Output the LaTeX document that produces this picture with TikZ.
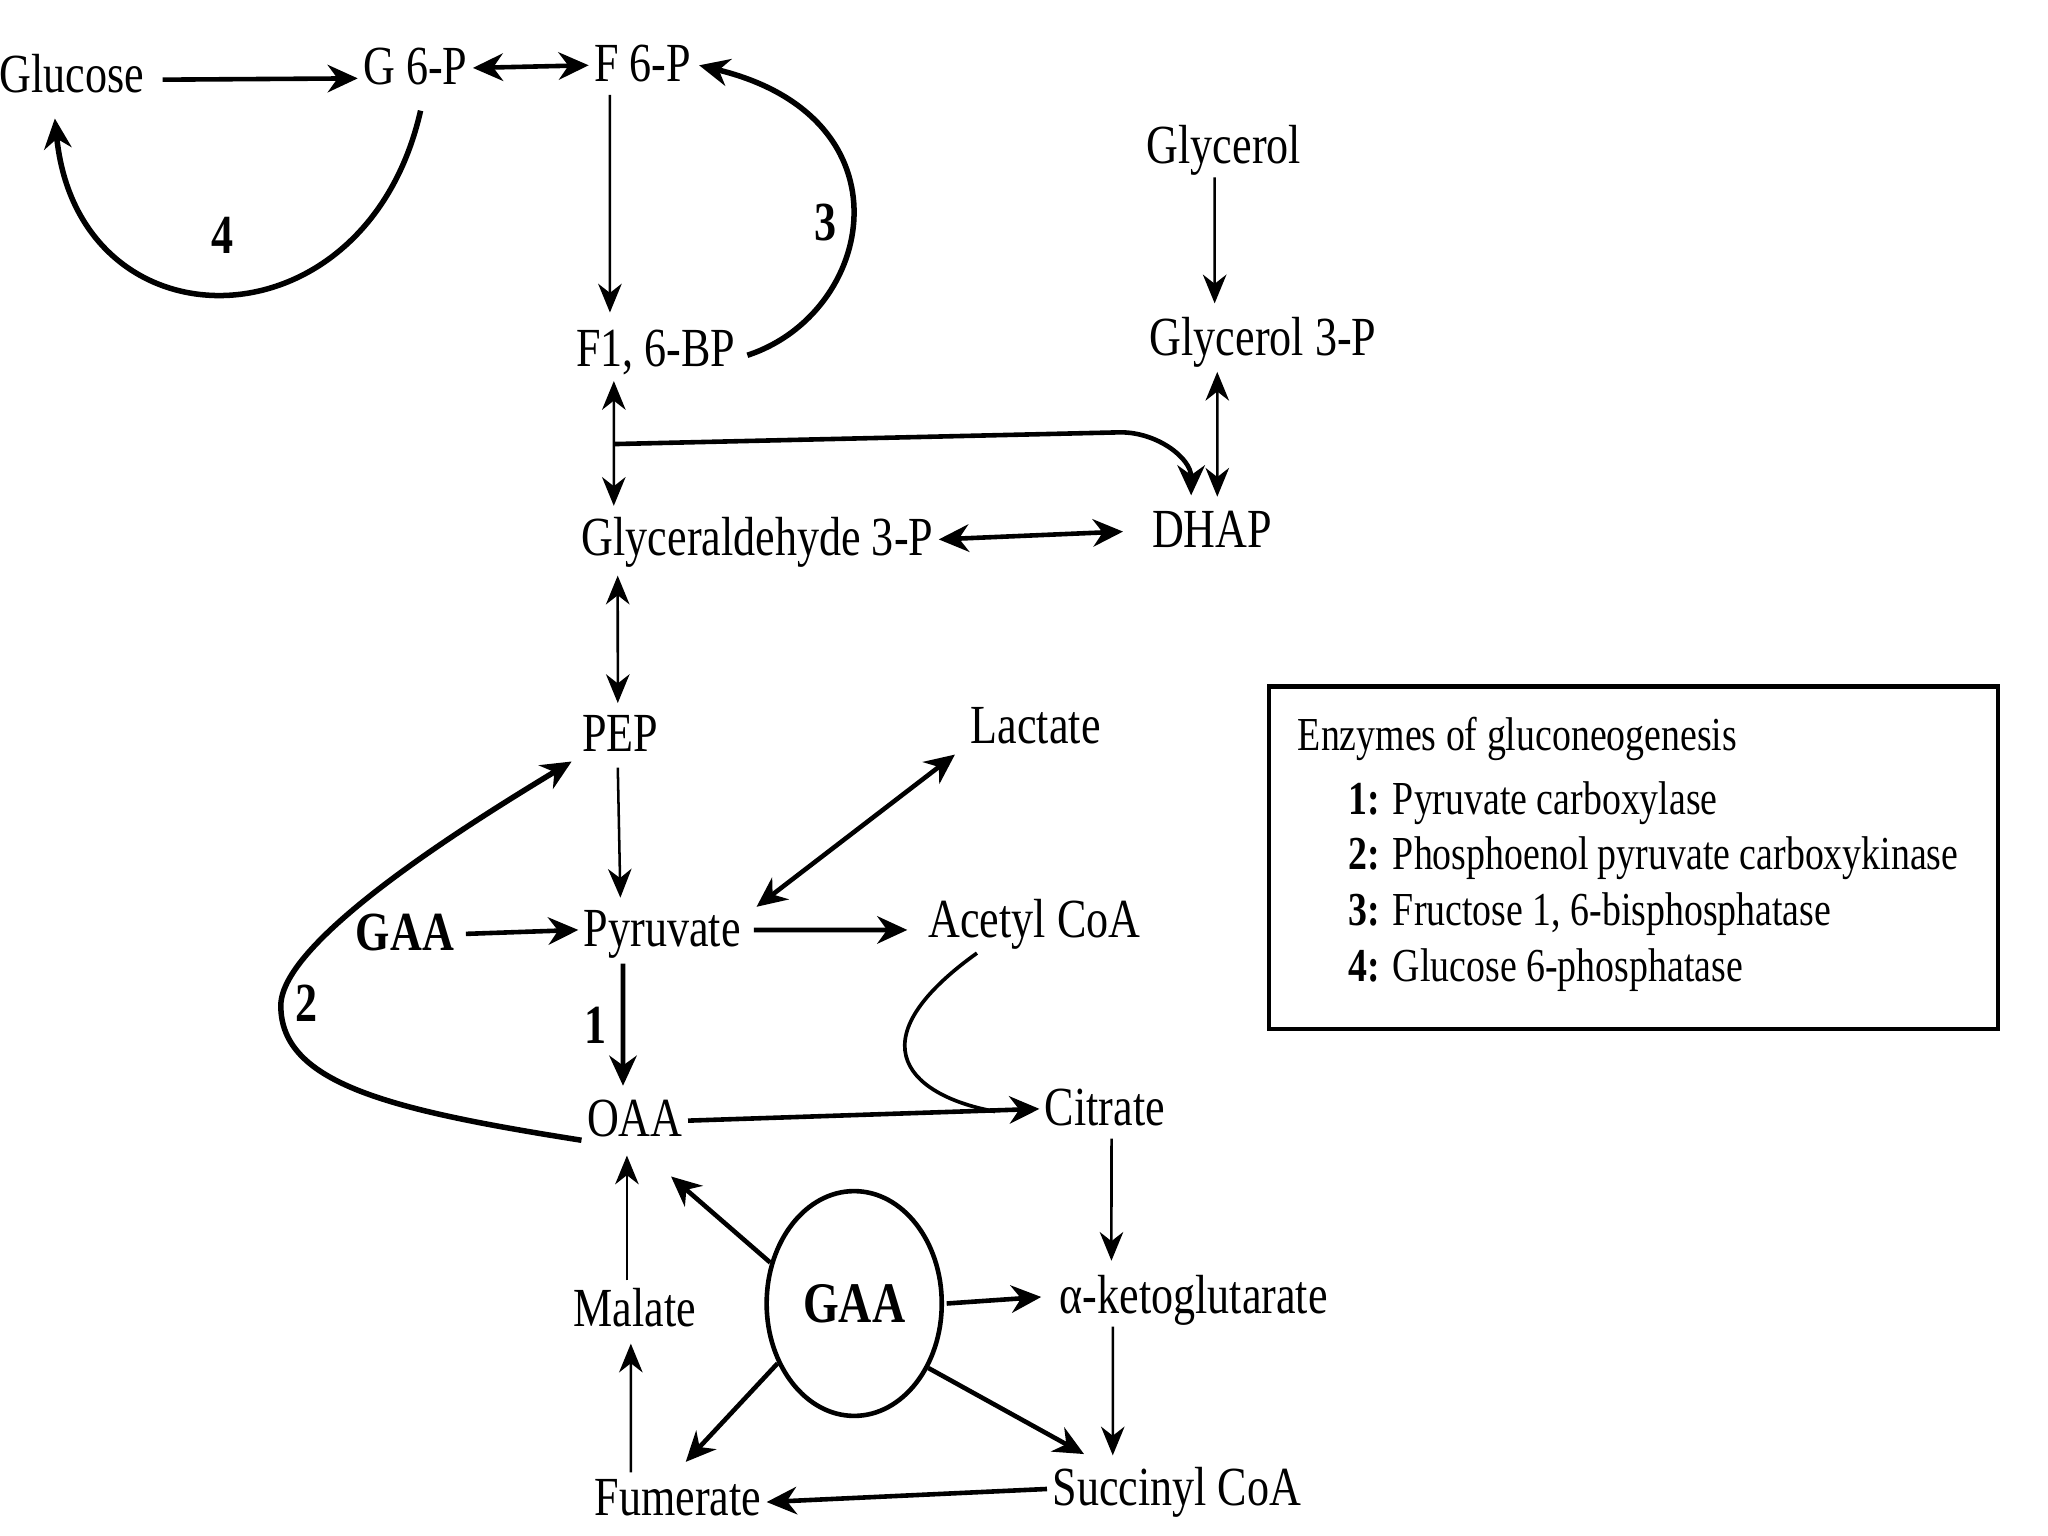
\documentclass[tikz,border=0pt]{standalone}
\usepackage{fontspec}
\setmainfont{Liberation Serif}[FakeStretch=0.8]
\usetikzlibrary{arrows.meta,shapes.geometric}
\tikzset{
  Big/.tip={Stealth[length=2.3mm,width=2.1mm,inset=0.75mm]},
  Sml/.tip={Stealth[length=2.2mm,width=1.8mm,inset=0.7mm]}
}
\begin{document}
\begin{tikzpicture}[x=0.01cm,y=-0.01cm,
  lbl/.style={inner sep=1pt,text height=3.1mm,text depth=0.6mm,font=\fontsize{12}{14}\selectfont},
  leg/.style={inner sep=0pt,anchor=west,font=\fontsize{10.3}{12}\selectfont},
  num/.style={inner sep=0pt,font=\fontsize{12}{14}\selectfont\bfseries},
  ln/.style={line width=0.55pt},
  tk/.style={line width=1pt},
  cv/.style={line width=1.2pt}]
\useasboundingbox[fill=white] (0,0) rectangle (1568,1176);

% nodes
\node[lbl] (glc) at (55,58) {Glucose};
\node[lbl] (g6p) at (318,52) {G 6-P};
\node[lbl] (f6p) at (492,50) {F 6-P};
\node[lbl] (fbp) at (502,268) {F1, 6-BP};
\node[lbl] (glyc) at (937,113) {Glycerol};
\node[lbl] (g3p) at (967,260) {Glycerol 3-P};
\node[lbl] (dhap) at (928,407) {DHAP};
\node[lbl] (gap) at (580,413) {Glyceraldehyde 3-P};
\node[lbl] (pep) at (475,563) {PEP};
\node[lbl] (lac) at (793,557) {Lactate};
\node[lbl,font=\fontsize{12}{14}\selectfont\bfseries] (gaa1) at (310,715) {GAA};
\node[lbl] (pyr) at (507,712) {Pyruvate};
\node[lbl] (acoa) at (792,705) {Acetyl CoA};
\node[lbl] (oaa) at (486,858) {OAA};
\node[lbl] (cit) at (846,849) {Citrate};
\node[lbl] (akg) at (914,993) {α-ketoglutarate};
\node[lbl] (suc) at (901,1140) {Succinyl CoA};
\node[lbl] (fum) at (519,1148) {Fumerate};
\node[lbl] (mal) at (486,1003) {Malate};
\node[draw,ellipse,line width=1pt,minimum width=1.34cm,minimum height=1.72cm,inner sep=0pt,
      font=\fontsize{12.5}{14}\selectfont\bfseries] (gaa2) at (654,998) {GAA};

% enzyme numbers
\node[num] (n4) at (170,180) {4};
\node[num] (n3) at (632,170) {3};
\node[num] (n1) at (456,785) {1};
\node[num] (n2) at (235,768) {2};

% legend
\node[draw,line width=0.9pt,minimum width=5.58cm,minimum height=2.62cm,anchor=north west,inner sep=0pt] (legbox) at (970,524) {};
\node[leg] (l0) at (993,566) {Enzymes of gluconeogenesis};
\node[leg] (l1) at (1032,615) {\textbf{1:} Pyruvate carboxylase};
\node[leg] (l2) at (1032,657) {\textbf{2:} Phosphoenol pyruvate carboxykinase};
\node[leg] (l3) at (1032,700) {\textbf{3:} Fructose 1, 6-bisphosphatase};
\node[leg] (l4) at (1032,743) {\textbf{4:} Glucose 6-phosphatase};

% top row
\draw[tk,-Big] ([xshift=0.1cm,yshift=-0.03cm]glc.east) -- ([yshift=-0.08cm]g6p.west);
\draw[tk,Big-Big] (g6p.east) -- (f6p.west);
\draw[ln,-Sml] ([xshift=-0.25cm]f6p.south) -- ([xshift=-0.35cm,yshift=0.06cm]fbp.north);
\draw[cv,-Big] ([xshift=0.05cm,yshift=-0.04cm]fbp.east) .. controls (670,240) and (700,90) .. ([xshift=0.02cm]f6p.east);
\draw[cv,-Big] ([xshift=0.04cm,yshift=-0.1cm]g6p.south) .. controls (280,270) and (60,270) .. ([xshift=-0.13cm,yshift=-0.1cm]glc.south);

% glycerol
\draw[ln,-Sml] ([xshift=-0.07cm]glyc.south) -- ([xshift=-0.37cm,yshift=0.05cm]g3p.north);
\draw[ln,Sml-Sml] ([xshift=-0.35cm,yshift=-0.02cm]g3p.south) -- ([xshift=0.04cm,yshift=0.04cm]dhap.north);

% F1,6-BP / GAP / DHAP
\draw[ln,Sml-Sml] ([xshift=-0.32cm,yshift=-0.01cm]fbp.south) -- ([xshift=-1.10cm,yshift=0.03cm]gap.north);
\coordinate (br) at (470,340);
\draw[tk,-Big] (br) -- (858,331) to[out=0,in=90] ([xshift=-0.16cm,yshift=0.05cm]dhap.north);
\draw[tk,Big-Big] (gap.east) -- ([xshift=-0.18cm]dhap.west);
\draw[ln,Sml-Sml] ([xshift=-1.07cm,yshift=-0.05cm]gap.south) -- ([xshift=-0.02cm,yshift=0.02cm]pep.north);

% pyruvate region
\draw[ln,-Sml] ([xshift=-0.02cm,yshift=-0.02cm]pep.south) -- ([xshift=-0.32cm,yshift=0.02cm]pyr.north);
\draw[tk,Big-Big] ([xshift=-0.08cm,yshift=0.02cm]lac.south west) -- ([xshift=0.08cm,yshift=-0.05cm]pyr.north east);
\draw[tk,-Big] ([xshift=0.05cm]gaa1.east) -- (pyr.west);
\draw[tk,-Big] ([xshift=0.06cm]pyr.east) -- ([xshift=-0.12cm,yshift=-0.07cm]acoa.west);
\draw[tk,-Big] ([xshift=-0.30cm,yshift=-0.03cm]pyr.south) -- ([xshift=-0.09cm,yshift=0.04cm]oaa.north);
\draw[cv,-Big] ([yshift=-0.15cm]oaa.west) .. controls (300,850) and (215,830) .. (215,770)
   .. controls (215,720) and (360,630) .. ([xshift=-0.04cm,yshift=-0.2cm]pep.west);

% citrate
\draw[tk,-Big] (oaa.east) -- (cit.west);
\coordinate (jn) at (762,851);
\draw[line width=0.8pt] ([xshift=-0.44cm,yshift=-0.02cm]acoa.south) .. controls (650,800) and (700,840) .. (jn);
\draw[ln,-Sml] ([xshift=0.05cm]cit.south) -- ([xshift=-0.63cm,yshift=0.05cm]akg.north);
\draw[ln,-Sml] ([xshift=-0.62cm]akg.south) -- ([xshift=-0.49cm,yshift=0.03cm]suc.north);
\draw[tk,-Big] (suc.west) -- ([yshift=-0.02cm]fum.east);
\draw[ln,-Sml] ([xshift=-0.36cm,yshift=-0.02cm]fum.north) -- ([xshift=-0.03cm,yshift=-0.03cm]mal.south);
\draw[ln,-Sml] ([xshift=-0.06cm]mal.north) -- ([xshift=-0.06cm,yshift=-0.04cm]oaa.south);

% GAA ellipse arrows
\draw[tk,-Big] (gaa2.154) -- ([xshift=-0.13cm,yshift=-0.2cm]oaa.south east);
\draw[tk,-Big] ([xshift=0.02cm]gaa2.east) -- ([xshift=-0.1cm]akg.west);
\draw[tk,-Big] (gaa2.218) -- ([xshift=0.06cm,yshift=0.06cm]fum.north);
\draw[tk,-Big] (gaa2.319) -- ([xshift=-0.71cm,yshift=0.04cm]suc.north);
\end{tikzpicture}
\end{document}
